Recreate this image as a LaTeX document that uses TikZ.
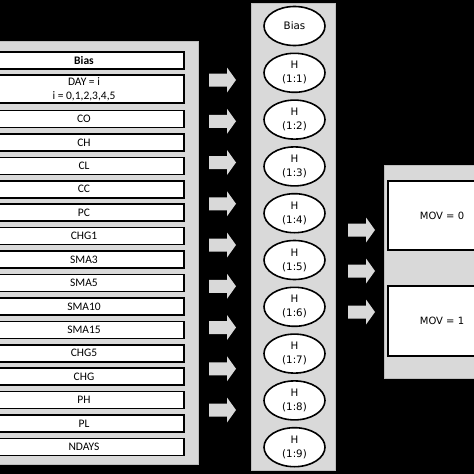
\documentclass[tikz,border=0pt]{standalone}
\usepackage{fontspec}
\setmainfont{Carlito}
\newfontfamily\hidfont{DejaVu Sans}
\usepackage{tikz}
\usetikzlibrary{shapes,positioning}
\usepackage{xcolor}
\definecolor{nnpanel}{RGB}{217,217,217}
\definecolor{nnedge}{RGB}{190,190,190}
\tikzstyle{panel} = [fill=nnpanel, draw=nnedge, line width=0.6pt]
\tikzstyle{inbox} = [rectangle, draw=black, fill=white, line width=1.6pt, minimum width=200pt, minimum height=17pt, inner sep=0pt, align=center, font=\fontsize{11.5}{11.5}\selectfont]
\tikzstyle{hidnode} = [ellipse, draw=black, fill=white, line width=1.6pt, minimum width=61pt, minimum height=39pt, inner sep=0pt, align=center, font=\hidfont\fontsize{10.3}{14}\selectfont]
\tikzstyle{outbox} = [rectangle, draw=black, fill=white, line width=1.6pt, minimum width=108pt, minimum height=69pt, inner sep=0pt, font=\hidfont\fontsize{10}{12}\selectfont]
\tikzstyle{blockarrow} = [fill=nnpanel]

\begin{document}
\begin{tikzpicture}[x=1pt, y=-1pt]
\useasboundingbox (0,0) rectangle (474,474);
\clip (0,0) rectangle (474,474);
\fill[black] (0,0) rectangle (474,474);

% Panels
\draw[panel] (-5,41) rectangle (198,464);
\draw[panel] (251,3) rectangle (335,470);
\draw[panel] (384,165) rectangle (480,378);

% Input layer
\node[inbox, font=\bfseries\fontsize{11.5}{11.5}\selectfont] (bias) at (84,60.5) {Bias};
\node[inbox, minimum height=28pt, font=\fontsize{11.5}{14}\selectfont] (day) at (84,89) {DAY = i\\i = 0,1,2,3,4,5};
\foreach \lab [count=\i from 0] in {CO,CH,CL,CC,PC,CHG1,SMA3,SMA5,SMA10,SMA15,CHG5,CHG,PH,PL,NDAYS}
  \node[inbox] (in\i) at (84,119+23.43*\i) {\lab};

% Hidden layer
\node[hidnode] (hbias) at (294.5,26) {Bias};
\foreach \i in {1,...,9}
  \node[hidnode] (h\i) at (294.5,26+46.8*\i) {H\\(1:\i)};

% Output layer
\node[outbox] (mov0) at (442,215.5) {MOV = 0};
\node[outbox, minimum height=70pt] (mov1) at (442,321) {MOV = 1};

% Block arrows
\foreach \y in {0,...,8}
  \fill[blockarrow] (209,80+41.25*\y-6.5) -- ++(18,0) -- ++(0,-6) -- ++(9,12.5) -- ++(-9,12.5) -- ++(0,-6) -- ++(-18,0) -- cycle;
\foreach \y in {230,271,312}
  \fill[blockarrow] (348,\y-6.5) -- ++(18,0) -- ++(0,-6) -- ++(9,12.5) -- ++(-9,12.5) -- ++(0,-6) -- ++(-18,0) -- cycle;
\end{tikzpicture}
\end{document}
